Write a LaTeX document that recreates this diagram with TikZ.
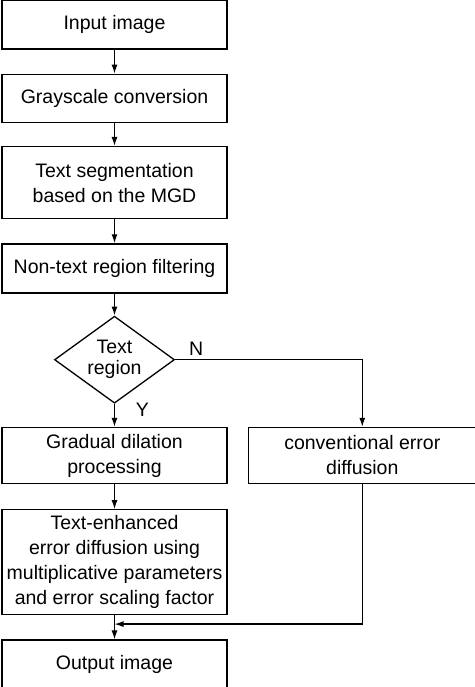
\documentclass[tikz,border=0pt]{standalone}
\usepackage{fontspec}
\setmainfont{Liberation Sans}
\usetikzlibrary{arrows,arrows.meta,shapes,calc,positioning}

\begin{document}
\begin{tikzpicture}[node distance=24pt, x=1pt, y=1pt,
    box/.style={draw, line width=1.3pt, minimum width=225pt, align=center, inner sep=2pt, font=\fontsize{19.5}{25}\selectfont},
    lbl/.style={font=\fontsize{19.5}{22}\selectfont},
    line/.style={line width=1.3pt, -{Latex[length=9pt,width=6pt]}}]
      \useasboundingbox (0,0) rectangle (474,-687);

      \node[box, minimum height=49pt] (input) at (114.5,-24.5) {Input image};
      \node[box, minimum height=48pt, below=of input] (gray) {Grayscale conversion};
      \node[box, minimum height=72pt, below=23pt of gray] (seg) {Text segmentation\\based on the MGD};
      \node[box, minimum height=49pt, below=of seg] (filter) {Non-text region filtering};
      \node[draw, diamond, aspect=1.38, line width=1.3pt, minimum width=120pt, minimum height=87pt, inner sep=0pt, align=center,
            font=\fontsize{19.5}{21}\selectfont, below=22pt of filter] (text) {Text\\region};
      \node[box, minimum height=56pt, below=23pt of text] (dilation) {Gradual dilation\\processing};
      \node[box, minimum height=56pt, minimum width=228pt, right=20pt of dilation] (conv) {conventional error\\diffusion};
      \node[box, minimum height=105pt, below=25pt of dilation] (enhanced) {Text-enhanced\\error diffusion using\\multiplicative parameters\\and error scaling factor};
      \node[box, minimum height=49pt, below=of enhanced] (output) {Output image};
      \coordinate (join) at ($(enhanced.south)!0.36!(output.north)$);

      \node[lbl] at ([xshift=21pt, yshift=11pt] text.east) {N};
      \node[lbl] at ([xshift=28pt, yshift=-6pt] text.south) {Y};

      \draw[line] (input) -- (gray);
      \draw[line] (gray) -- (seg);
      \draw[line] (seg) -- (filter);
      \draw[line] (filter) -- (text);
      \draw[line] (text) -- (dilation);
      \draw[line] (text.east) -| (conv);
      \draw[line] (dilation) -- (enhanced);
      \draw[line] (conv) |- (join);
      \draw[line] (enhanced) -- (output);
\end{tikzpicture}
\end{document}
